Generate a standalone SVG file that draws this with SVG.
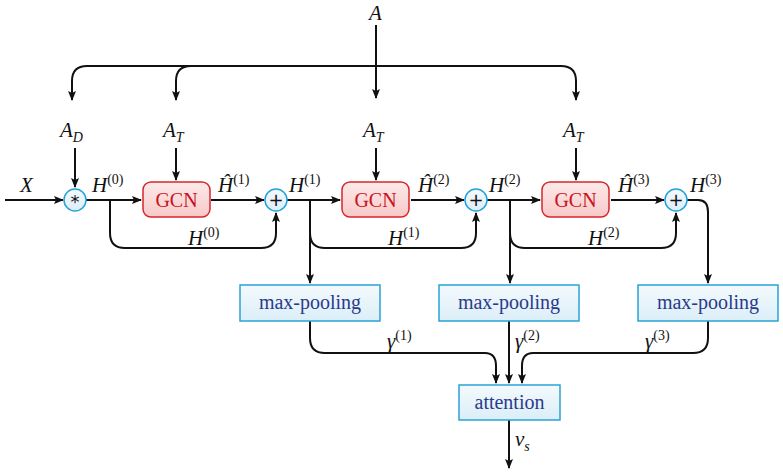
<svg xmlns="http://www.w3.org/2000/svg" width="783" height="474" viewBox="0 0 783 474">
<defs>
<marker id="ar" markerWidth="10" markerHeight="10" refX="9" refY="5" orient="auto" markerUnits="userSpaceOnUse"><path d="M0,1 L10,5 L0,9 L2,5 Z" fill="#111"/></marker>
<linearGradient id="bg" x1="0" y1="0" x2="0" y2="1"><stop offset="0" stop-color="#f4fafd"/><stop offset="1" stop-color="#dbeef8"/></linearGradient>
<linearGradient id="rg" x1="0" y1="0" x2="0" y2="1"><stop offset="0" stop-color="#fdeaea"/><stop offset="1" stop-color="#f8c8c8"/></linearGradient>
</defs>
<style>
.m{font-family:"Liberation Serif",serif;font-style:italic;font-size:21px;fill:#111}
.s{font-size:14px;font-style:normal}
.si{font-size:14px}
.c{fill:none;stroke:#111;stroke-width:2}
.gcn rect{fill:url(#rg);stroke:#d8262a;stroke-width:1.5}
.gcn text{font-family:"Liberation Serif",serif;font-size:20px;fill:#c8141c;text-anchor:middle}
.bx rect{fill:url(#bg);stroke:#29a3d6;stroke-width:1.5}
.bx text{font-family:"Liberation Serif",serif;font-size:20px;fill:#2a3a8a;text-anchor:middle}
.op circle{fill:url(#bg);stroke:#29a3d6;stroke-width:1.5}
.op text{font-family:"DejaVu Sans",sans-serif;font-size:18px;fill:#111;text-anchor:middle}
</style>
<g id="connectors">
<path class="c" d="M376,25 V98" marker-end="url(#ar)"/>
<path class="c" d="M376,66 H87 Q72,66 72,81 V100" marker-end="url(#ar)"/>
<path class="c" d="M376,66 H191 Q176,66 176,81 V100" marker-end="url(#ar)"/>
<path class="c" d="M376,66 H561 Q576,66 576,81 V100" marker-end="url(#ar)"/>
<path class="c" d="M75,148 V187" marker-end="url(#ar)"/>
<path class="c" d="M176,148 V180" marker-end="url(#ar)"/>
<path class="c" d="M376,148 V180" marker-end="url(#ar)"/>
<path class="c" d="M576,148 V180" marker-end="url(#ar)"/>
<path class="c" d="M5,200 H63" marker-end="url(#ar)"/>
<path class="c" d="M86,200 H141" marker-end="url(#ar)"/>
<path class="c" d="M211,200 H264" marker-end="url(#ar)"/>
<path class="c" d="M287,200 H340" marker-end="url(#ar)"/>
<path class="c" d="M411,200 H464" marker-end="url(#ar)"/>
<path class="c" d="M487,200 H540" marker-end="url(#ar)"/>
<path class="c" d="M611,200 H664" marker-end="url(#ar)"/>
<path class="c" d="M110,200 V233 Q110,248 125,248 H261 Q276,248 276,233 V213" marker-end="url(#ar)"/>
<path class="c" d="M310,200 V233 Q310,248 325,248 H461 Q476,248 476,233 V213" marker-end="url(#ar)"/>
<path class="c" d="M510,200 V233 Q510,248 525,248 H661 Q676,248 676,233 V213" marker-end="url(#ar)"/>
<path class="c" d="M310,200 V283" marker-end="url(#ar)"/>
<path class="c" d="M510,200 V283" marker-end="url(#ar)"/>
<path class="c" d="M687,200 H698 Q708,200 708,212 V283" marker-end="url(#ar)"/>
<path class="c" d="M310,321 V338 Q310,353 325,353 H485 Q496,353 496,366 V383" marker-end="url(#ar)"/>
<path class="c" d="M509,321 V383" marker-end="url(#ar)"/>
<path class="c" d="M708,321 V338 Q708,353 693,353 H533 Q522,353 522,366 V383" marker-end="url(#ar)"/>
<path class="c" d="M509,420 V468" marker-end="url(#ar)"/>
</g>
<g id="labels">
<text class="m" x="369" y="20">A</text>
<text class="m" x="60" y="137">A<tspan class="si" dy="5">D</tspan></text>
<text class="m" x="163" y="137">A<tspan class="si" dy="5">T</tspan></text>
<text class="m" x="363" y="137">A<tspan class="si" dy="5">T</tspan></text>
<text class="m" x="563" y="137">A<tspan class="si" dy="5">T</tspan></text>
<text class="m" x="20" y="192">X</text>
<text class="m" x="92" y="192">H<tspan class="s" dy="-8">(0)</tspan></text>
<text class="m" x="218" y="192">Ĥ<tspan class="s" dy="-8">(1)</tspan></text>
<text class="m" x="289" y="192">H<tspan class="s" dy="-8">(1)</tspan></text>
<text class="m" x="418" y="192">Ĥ<tspan class="s" dy="-8">(2)</tspan></text>
<text class="m" x="489" y="192">H<tspan class="s" dy="-8">(2)</tspan></text>
<text class="m" x="618" y="192">Ĥ<tspan class="s" dy="-8">(3)</tspan></text>
<text class="m" x="690" y="192">H<tspan class="s" dy="-8">(3)</tspan></text>
<text class="m" x="188" y="245">H<tspan class="s" dy="-8">(0)</tspan></text>
<text class="m" x="388" y="245">H<tspan class="s" dy="-8">(1)</tspan></text>
<text class="m" x="588" y="245">H<tspan class="s" dy="-8">(2)</tspan></text>
<text class="m" x="387" y="348">γ<tspan class="s" dy="-8">(1)</tspan></text>
<text class="m" x="515" y="348">γ<tspan class="s" dy="-8">(2)</tspan></text>
<text class="m" x="645" y="348">γ<tspan class="s" dy="-8">(3)</tspan></text>
<text class="m" x="515" y="446">v<tspan class="si" dy="5">s</tspan></text>
</g>
<g id="mult" class="op"><circle cx="75" cy="200" r="11"/><text x="75" y="208">*</text></g>
<g id="plus1" class="op"><circle cx="276" cy="200" r="11"/><text x="276" y="206">+</text></g>
<g id="plus2" class="op"><circle cx="476" cy="200" r="11"/><text x="476" y="206">+</text></g>
<g id="plus3" class="op"><circle cx="676" cy="200" r="11"/><text x="676" y="206">+</text></g>
<g id="gcn1" class="gcn"><rect x="143" y="182" width="67" height="35" rx="8"/><text x="176.5" y="207">GCN</text></g>
<g id="gcn2" class="gcn"><rect x="342" y="182" width="67" height="35" rx="8"/><text x="375.5" y="207">GCN</text></g>
<g id="gcn3" class="gcn"><rect x="542" y="182" width="67" height="35" rx="8"/><text x="575.5" y="207">GCN</text></g>
<g id="pool1" class="bx"><rect x="240" y="285" width="140" height="36"/><text x="310" y="309">max-pooling</text></g>
<g id="pool2" class="bx"><rect x="439" y="285" width="140" height="36"/><text x="509" y="309">max-pooling</text></g>
<g id="pool3" class="bx"><rect x="638" y="285" width="140" height="36"/><text x="708" y="309">max-pooling</text></g>
<g id="attention" class="bx"><rect x="459" y="385" width="101" height="35"/><text x="509.5" y="409">attention</text></g>
</svg>
